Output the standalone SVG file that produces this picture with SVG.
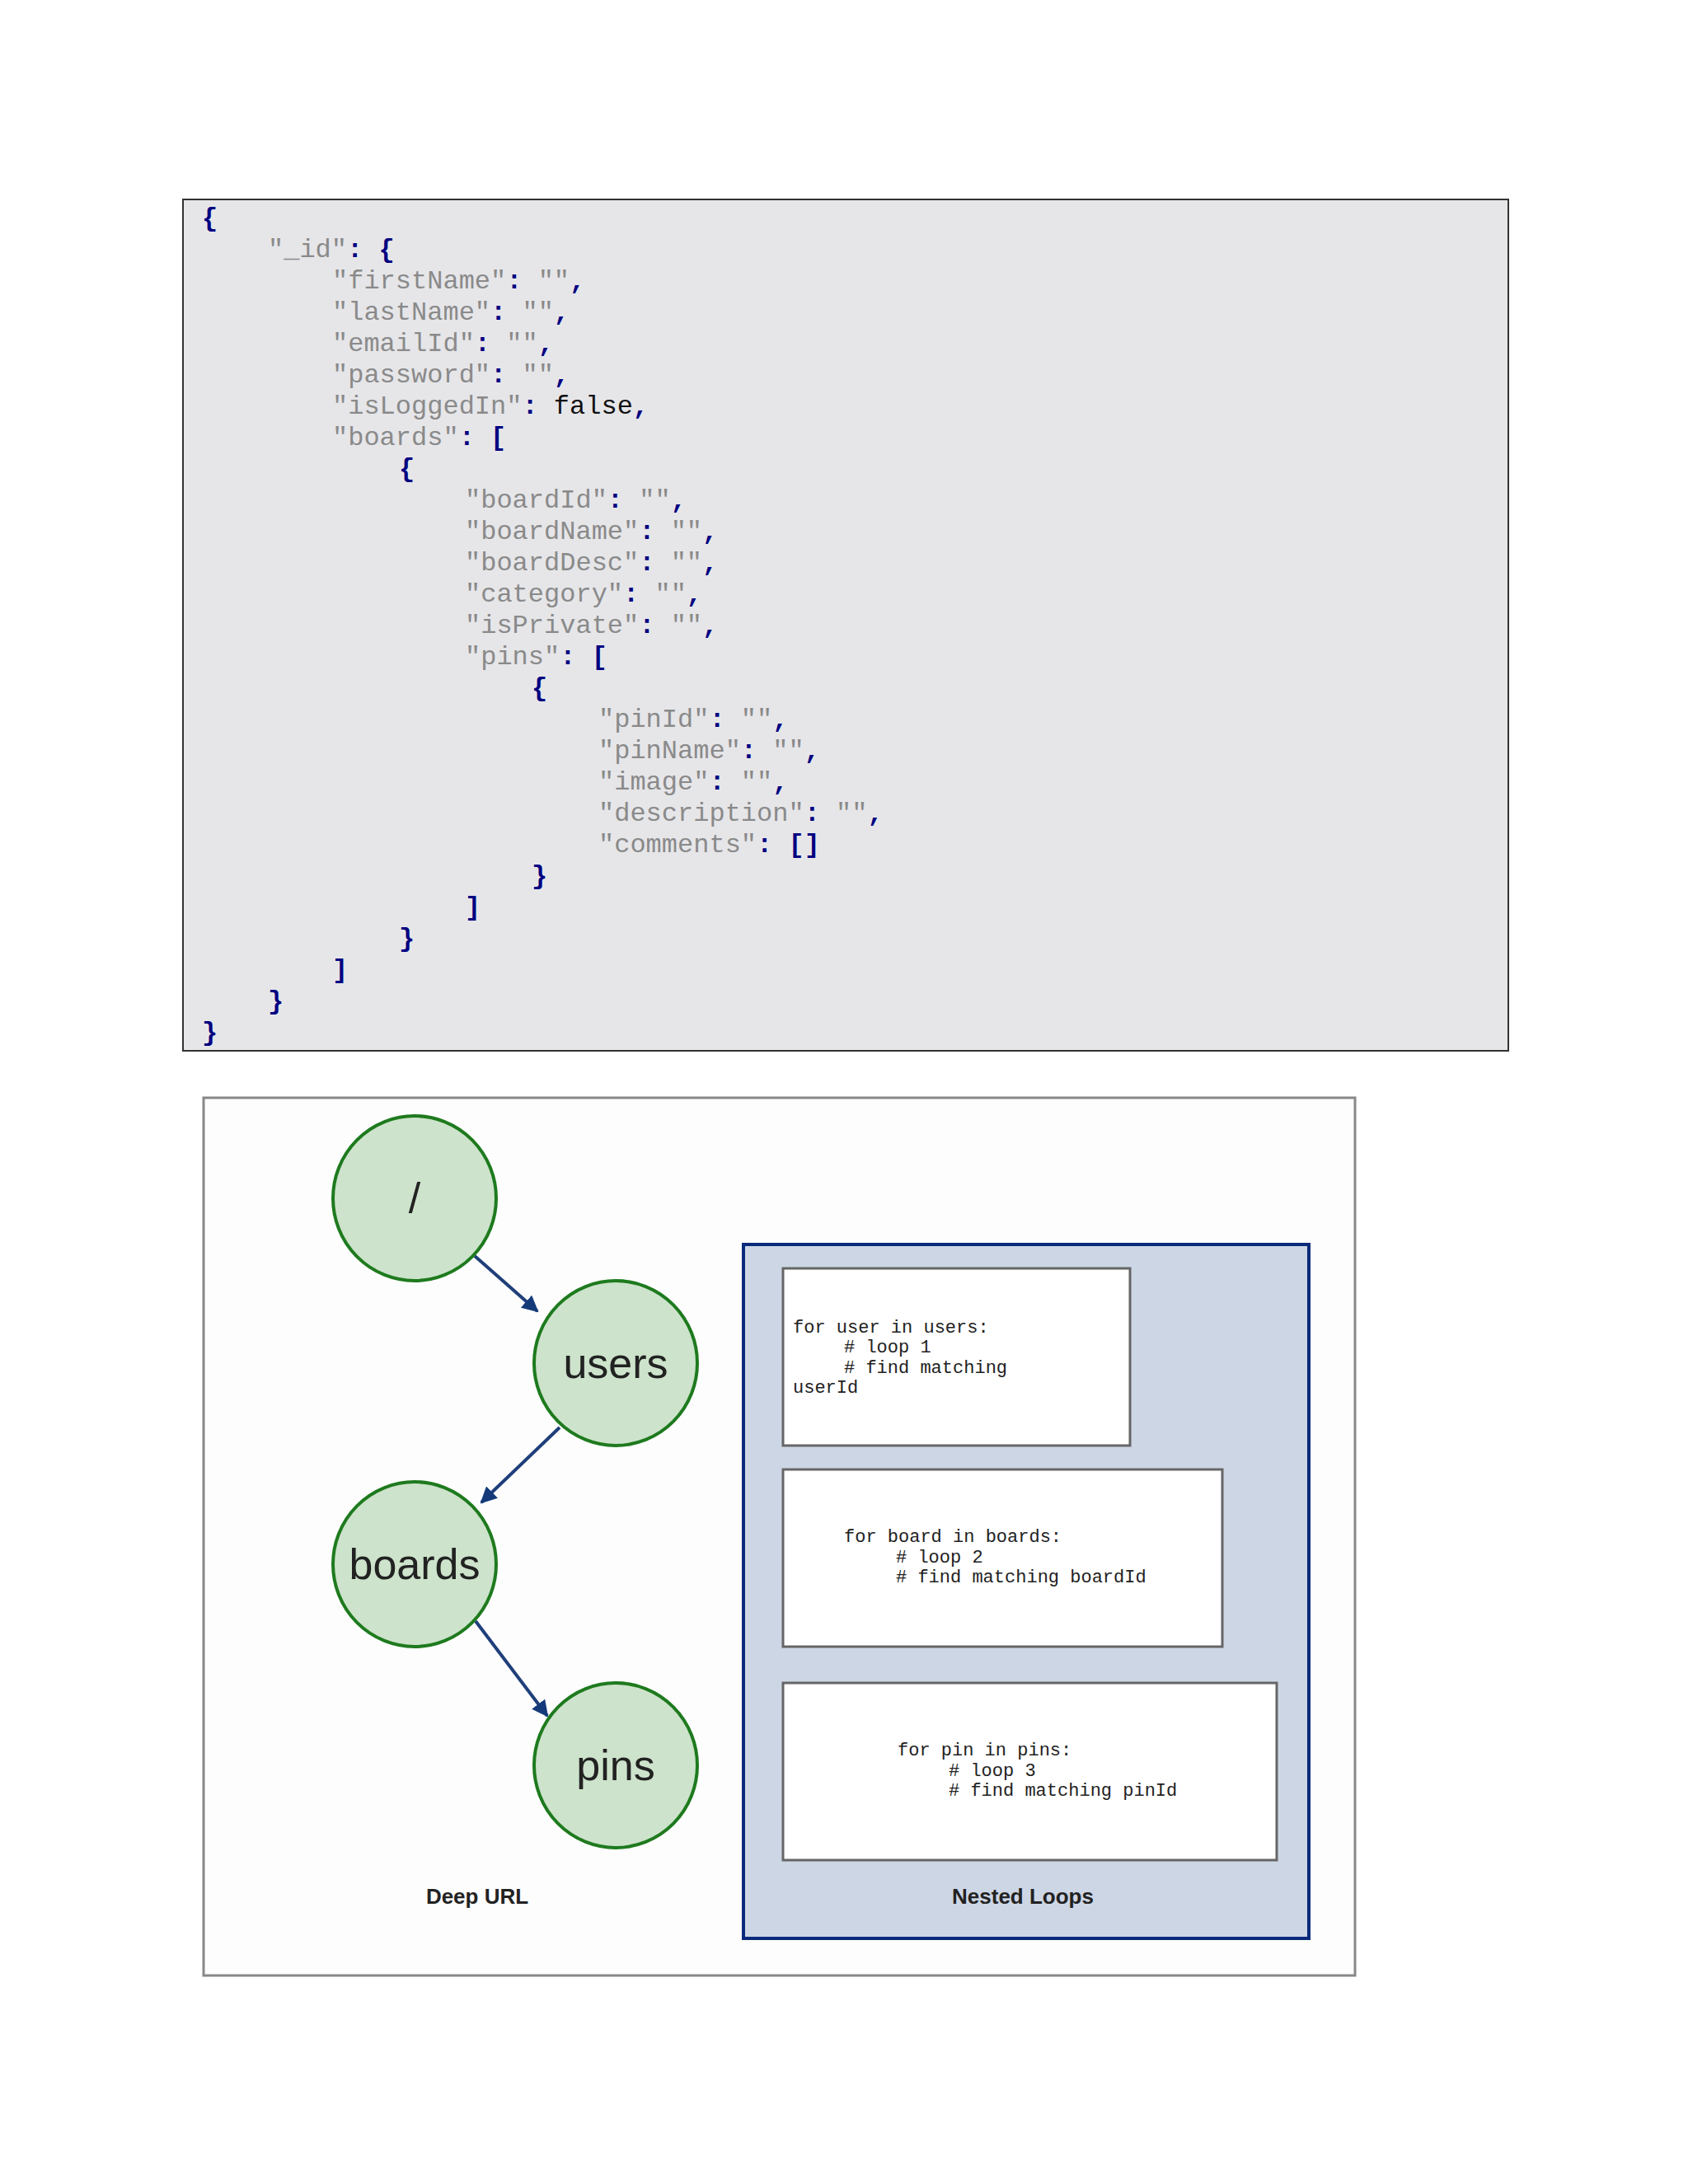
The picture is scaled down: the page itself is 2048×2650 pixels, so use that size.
<svg xmlns="http://www.w3.org/2000/svg" width="2048" height="2650" viewBox="0 0 2048 2650">
<style>
.j{font-family:"Liberation Mono",monospace;font-size:32px;fill:#8a8a8a}
.p{fill:#000080;font-weight:bold}
.b{fill:#111}
.n{fill:#cde3cb;stroke:#1e7a1e;stroke-width:4}
.nt{font-family:"Liberation Sans",Arial,sans-serif;font-size:52px;fill:#222;text-anchor:middle}
.c{font-family:"Liberation Mono",monospace;font-size:22px;fill:#222;white-space:pre}
.box{fill:#fff;stroke:#666;stroke-width:3}
.lab{font-family:"Liberation Sans",Arial,sans-serif;font-size:26px;fill:#222;text-anchor:middle;font-weight:bold}
.e{stroke:#1f3f7a;stroke-width:4;fill:none;marker-end:url(#ah)}
</style>
<defs><marker id="ah" viewBox="0 0 10 10" refX="9" refY="5" markerWidth="5" markerHeight="5" orient="auto"><path d="M0,0L10,5L0,10z" fill="#143a7a"/></marker></defs>
<rect width="2048" height="2650" fill="#fff"/>
<g id="json">
<rect x="222" y="242" width="1608" height="1033" fill="#e6e6e9" stroke="#333" stroke-width="2"/>
<text class="j" xml:space="preserve">
<tspan x="245" y="274" class="p">{</tspan>
<tspan x="325" y="312">"_id"<tspan class="p">: {</tspan></tspan>
<tspan x="403" y="350">"firstName"<tspan class="p">: </tspan>""<tspan class="p">,</tspan></tspan>
<tspan x="403" y="388">"lastName"<tspan class="p">: </tspan>""<tspan class="p">,</tspan></tspan>
<tspan x="403" y="426">"emailId"<tspan class="p">: </tspan>""<tspan class="p">,</tspan></tspan>
<tspan x="403" y="464">"password"<tspan class="p">: </tspan>""<tspan class="p">,</tspan></tspan>
<tspan x="403" y="502">"isLoggedIn"<tspan class="p">: </tspan><tspan class="b">false</tspan><tspan class="p">,</tspan></tspan>
<tspan x="403" y="540">"boards"<tspan class="p">: [</tspan></tspan>
<tspan x="484" y="578" class="p">{</tspan>
<tspan x="564" y="616">"boardId"<tspan class="p">: </tspan>""<tspan class="p">,</tspan></tspan>
<tspan x="564" y="654">"boardName"<tspan class="p">: </tspan>""<tspan class="p">,</tspan></tspan>
<tspan x="564" y="692">"boardDesc"<tspan class="p">: </tspan>""<tspan class="p">,</tspan></tspan>
<tspan x="564" y="730">"category"<tspan class="p">: </tspan>""<tspan class="p">,</tspan></tspan>
<tspan x="564" y="768">"isPrivate"<tspan class="p">: </tspan>""<tspan class="p">,</tspan></tspan>
<tspan x="564" y="806">"pins"<tspan class="p">: [</tspan></tspan>
<tspan x="645" y="844" class="p">{</tspan>
<tspan x="726" y="882">"pinId"<tspan class="p">: </tspan>""<tspan class="p">,</tspan></tspan>
<tspan x="726" y="920">"pinName"<tspan class="p">: </tspan>""<tspan class="p">,</tspan></tspan>
<tspan x="726" y="958">"image"<tspan class="p">: </tspan>""<tspan class="p">,</tspan></tspan>
<tspan x="726" y="996">"description"<tspan class="p">: </tspan>""<tspan class="p">,</tspan></tspan>
<tspan x="726" y="1034">"comments"<tspan class="p">: []</tspan></tspan>
<tspan x="645" y="1072" class="p">}</tspan>
<tspan x="564" y="1110" class="p">]</tspan>
<tspan x="484" y="1148" class="p">}</tspan>
<tspan x="403" y="1186" class="p">]</tspan>
<tspan x="325" y="1224" class="p">}</tspan>
<tspan x="245" y="1262" class="p">}</tspan>
</text>
</g>
<g id="panel"><rect x="247" y="1332" width="1397" height="1065" fill="#fdfdfd" stroke="#888" stroke-width="3"/></g>
<g id="nested">
<rect x="902" y="1510" width="686" height="842" fill="#cdd6e5" stroke="#0a2a7a" stroke-width="4"/>
<text class="lab" x="1241" y="2310">Nested Loops</text>
</g>
<g id="loop1"><rect class="box" x="950" y="1539" width="421" height="215"/>
<text class="c"><tspan x="962" y="1617">for user in users:</tspan><tspan x="1024" y="1641"># loop 1</tspan><tspan x="1024" y="1666"># find matching</tspan><tspan x="962" y="1690">userId</tspan></text></g>
<g id="loop2"><rect class="box" x="950" y="1783" width="533" height="215"/>
<text class="c"><tspan x="1024" y="1871">for board in boards:</tspan><tspan x="1087" y="1896"># loop 2</tspan><tspan x="1087" y="1920"># find matching boardId</tspan></text></g>
<g id="loop3"><rect class="box" x="950" y="2042" width="599" height="215"/>
<text class="c"><tspan x="1089" y="2130">for pin in pins:</tspan><tspan x="1151" y="2155"># loop 3</tspan><tspan x="1151" y="2179"># find matching pinId</tspan></text></g>
<g id="connectors">
<line class="e" x1="576" y1="1524" x2="652" y2="1591"/>
<line class="e" x1="679" y1="1732" x2="584" y2="1823"/>
<line class="e" x1="577" y1="1967" x2="664" y2="2082"/>
</g>
<g id="root"><ellipse class="n" cx="503" cy="1454" rx="99" ry="100"/><text class="nt" x="503" y="1472">/</text></g>
<g id="users"><ellipse class="n" cx="747" cy="1654" rx="99" ry="100"/><text class="nt" x="747" y="1672">users</text></g>
<g id="boards"><ellipse class="n" cx="503" cy="1898" rx="99" ry="100"/><text class="nt" x="503" y="1916">boards</text></g>
<g id="pins"><ellipse class="n" cx="747" cy="2142" rx="99" ry="100"/><text class="nt" x="747" y="2160">pins</text></g>
<text class="lab" x="579" y="2310">Deep URL</text>
</svg>
